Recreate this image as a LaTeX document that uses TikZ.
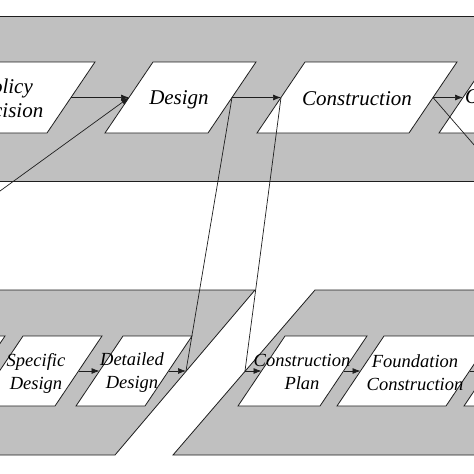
\documentclass[tikz,border=0pt]{standalone}
\usepackage{fontspec}
\setmainfont{Liberation Serif}
\usetikzlibrary{arrows.meta}
\definecolor{bandgrey}{RGB}{192,192,192}
\definecolor{linecol}{RGB}{30,30,30}
\tikzset{
  band/.style={fill=bandgrey, draw=linecol, line width=0.8pt},
  parabox/.style={fill=white, draw=linecol, line width=0.8pt},
  arr/.style={draw=linecol, line width=0.7pt, -{Latex[length=8pt,width=6pt]}},
  conn/.style={draw=linecol, line width=0.7pt},
  toptxt/.style={inner sep=0pt, align=center, font=\itshape\fontsize{21}{24}\selectfont},
  lowtxt/.style={inner sep=0pt, align=center, font=\itshape\fontsize{18.5}{23}\selectfont},
}
\newcommand\mypara[6]{% name, TLx, TRx, ytop, ybot, shear
  \coordinate (#1-tl) at (#2,#4);
  \coordinate (#1-tr) at (#3,#4);
  \coordinate (#1-bl) at ({#2-#6},#5);
  \coordinate (#1-br) at ({#3-#6},#5);
  \draw[parabox] (#1-tl) -- (#1-tr) -- (#1-br) -- (#1-bl) -- cycle;
  \coordinate (#1-w) at ({#2-#6/2},{(#4+#5)/2});
  \coordinate (#1-e) at ({#3-#6/2},{(#4+#5)/2});
}
\begin{document}
\begin{tikzpicture}[x=1pt,y=-1pt]
\useasboundingbox (0,0) rectangle (474,474);
\clip (0,0) rectangle (474,474);
% bands
\draw[band] (-10,16) rectangle (490,181);
\draw[band] (-10,290) -- (255,290) -- (115,455) -- (-10,455) -- cycle;
\draw[band] (315,290) -- (490,290) -- (490,455) -- (173,455) -- cycle;
% top row
\mypara{policy}{-35}{95}{62}{133}{48}
\mypara{design}{153}{256}{62}{133}{48}
\mypara{constr}{305}{457}{62}{133}{48}
\mypara{oper}{487}{640}{62}{133}{48}
% bottom row
\mypara{prev}{-70}{5}{336}{406}{47}
\mypara{specific}{23}{102}{336}{406}{47}
\mypara{detailed}{123}{192}{336}{406}{47}
\mypara{cplan}{285}{367}{336}{406}{47}
\mypara{found}{384}{493}{336}{406}{47}
\mypara{nextb}{511}{600}{336}{406}{47}
% junction points on the band edges
\coordinate (p1) at (186,371);
\coordinate (p2) at (245,371);
\coordinate (offl) at (-40,220);
\coordinate (offr) at (520,198);
% connectors top
\draw[arr] (policy-e) -- (design-w);
\draw[arr] (offl) -- (design-w);
\draw[arr] (design-e) -- (constr-w);
\draw[arr] (constr-e) -- (oper-w);
\draw[conn] (constr-e) -- (offr);
% vertical links
\draw[conn] (design-e) -- (p1);
\draw[conn] (constr-w) -- (p2);
% connectors bottom
\draw[arr] (prev-e) -- (specific-w);
\draw[arr] (specific-e) -- (detailed-w);
\draw[arr] (detailed-e) -- (p1);
\draw[arr] (p2) -- (cplan-w);
\draw[arr] (cplan-e) -- (found-w);
\draw[arr] (found-e) -- (nextb-w);
% texts
\node[toptxt] (tpolicy) at (6,98) {Policy\\Decision};
\node[toptxt] (tdesign) at (179,100) {Design};
\node[toptxt] (tconstr) at (357,99) {Construction};
\node[toptxt, anchor=west] (toper) at (465,99) {Operation};
\node[lowtxt] (tspec) at (36,373) {Specific\\Design};
\node[lowtxt] (tdet) at (132,373) {Detailed\\Design};
\node[lowtxt] (tcplan) at (302,372) {Construction\\Plan};
\node[lowtxt] (tfound) at (415,373) {Foundation\\Construction};
\end{tikzpicture}
\end{document}
